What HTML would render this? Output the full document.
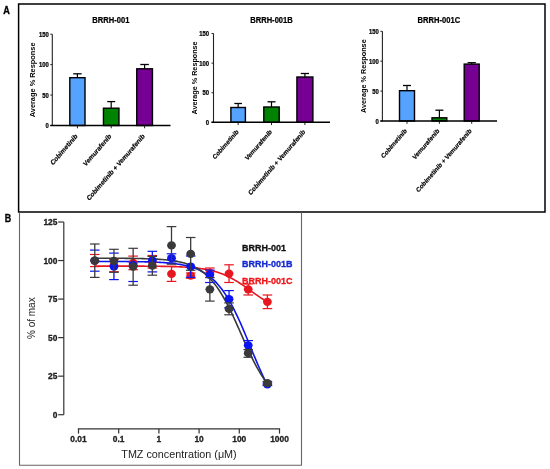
<!DOCTYPE html>
<html><head><meta charset="utf-8"><style>
html,body{margin:0;padding:0;background:#fff;}
svg{display:block;will-change:transform;}
text{font-family:"Liberation Sans", sans-serif;}
</style></head><body>
<svg width="550" height="469" viewBox="0 0 550 469" font-family='"Liberation Sans", sans-serif'>
<rect x="0" y="0" width="550" height="469" fill="#fff"/>
<rect x="18.6" y="4.0" width="526.4" height="208.0" fill="none" stroke="#000" stroke-width="1.5"/>
<polyline points="19.5,212.5 19.5,465.3 301.5,465.3 301.5,212.5" fill="none" stroke="#666" stroke-width="1.1"/>
<text transform="translate(3.2,13.8) scale(0.97,1.14)" font-size="9.4" font-weight="bold" stroke="#000" stroke-width="0.3">A</text>
<text transform="translate(4.8,221.8) scale(0.95,1.2)" font-size="9.4" font-weight="bold" stroke="#000" stroke-width="0.3">B</text>
<line x1="52.3" y1="34.2" x2="52.3" y2="125.5" stroke="#222" stroke-width="1.1"/>
<line x1="50.3" y1="125.50" x2="52.3" y2="125.50" stroke="#222" stroke-width="1"/>
<text transform="translate(48.8,128.00) scale(1,1.2)" font-size="5.9" font-weight="bold" text-anchor="end" stroke="#000" stroke-width="0.2">0</text>
<line x1="50.3" y1="95.07" x2="52.3" y2="95.07" stroke="#222" stroke-width="1"/>
<text transform="translate(48.8,97.57) scale(1,1.2)" font-size="5.9" font-weight="bold" text-anchor="end" stroke="#000" stroke-width="0.2">50</text>
<line x1="50.3" y1="64.63" x2="52.3" y2="64.63" stroke="#222" stroke-width="1"/>
<text transform="translate(48.8,67.13) scale(1,1.2)" font-size="5.9" font-weight="bold" text-anchor="end" stroke="#000" stroke-width="0.2">100</text>
<line x1="50.3" y1="34.20" x2="52.3" y2="34.20" stroke="#222" stroke-width="1"/>
<text transform="translate(48.8,36.70) scale(1,1.2)" font-size="5.9" font-weight="bold" text-anchor="end" stroke="#000" stroke-width="0.2">150</text>
<line x1="77.40" y1="73.8" x2="77.40" y2="77.7" stroke="#000" stroke-width="1.2"/>
<line x1="73.20" y1="73.8" x2="81.60" y2="73.8" stroke="#000" stroke-width="1.3"/>
<rect x="69.8" y="77.7" width="15.20" height="47.80" fill="#55a2ff" stroke="#000" stroke-width="1.4"/>
<line x1="77.40" y1="125.5" x2="77.40" y2="128.3" stroke="#222" stroke-width="1"/>
<line x1="111.20" y1="101.6" x2="111.20" y2="108.2" stroke="#000" stroke-width="1.2"/>
<line x1="107.20" y1="101.6" x2="115.20" y2="101.6" stroke="#000" stroke-width="1.3"/>
<rect x="103.45" y="108.2" width="15.50" height="17.30" fill="#008300" stroke="#000" stroke-width="1.4"/>
<line x1="111.20" y1="125.5" x2="111.20" y2="128.3" stroke="#222" stroke-width="1"/>
<line x1="144.60" y1="64.5" x2="144.60" y2="68.8" stroke="#000" stroke-width="1.2"/>
<line x1="140.30" y1="64.5" x2="148.90" y2="64.5" stroke="#000" stroke-width="1.3"/>
<rect x="136.75" y="68.8" width="15.70" height="56.70" fill="#760094" stroke="#000" stroke-width="1.4"/>
<line x1="144.60" y1="125.5" x2="144.60" y2="128.3" stroke="#222" stroke-width="1"/>
<line x1="50.3" y1="125.5" x2="170.5" y2="125.5" stroke="#000" stroke-width="1.4"/>
<text transform="translate(110.9,22.6) scale(1,1.15)" font-size="7.6" font-weight="bold" text-anchor="middle" stroke="#000" stroke-width="0.2">BRRH-001</text>
<text transform="translate(34.8,79.85) scale(1,1.15) rotate(-90)" font-size="6.44" font-weight="bold" text-anchor="middle">Average % Response</text>
<text transform="translate(77.90,136.8) scale(1,1.15) rotate(-45)" font-size="6.13" font-weight="bold" text-anchor="end" stroke="#000" stroke-width="0.18">Cobimetinib</text>
<text transform="translate(111.70,136.8) scale(1,1.15) rotate(-45)" font-size="6.13" font-weight="bold" text-anchor="end" stroke="#000" stroke-width="0.18">Vemurafenib</text>
<text transform="translate(145.10,136.8) scale(1,1.15) rotate(-45)" font-size="6.13" font-weight="bold" text-anchor="end" stroke="#000" stroke-width="0.18">Cobimetinib + Vemurafenib</text>
<line x1="213.5" y1="33.5" x2="213.5" y2="122.3" stroke="#222" stroke-width="1.1"/>
<line x1="211.5" y1="122.30" x2="213.5" y2="122.30" stroke="#222" stroke-width="1"/>
<text transform="translate(209.1,124.80) scale(1,1.2)" font-size="5.9" font-weight="bold" text-anchor="end" stroke="#000" stroke-width="0.2">0</text>
<line x1="211.5" y1="92.70" x2="213.5" y2="92.70" stroke="#222" stroke-width="1"/>
<text transform="translate(209.1,95.20) scale(1,1.2)" font-size="5.9" font-weight="bold" text-anchor="end" stroke="#000" stroke-width="0.2">50</text>
<line x1="211.5" y1="63.10" x2="213.5" y2="63.10" stroke="#222" stroke-width="1"/>
<text transform="translate(209.1,65.60) scale(1,1.2)" font-size="5.9" font-weight="bold" text-anchor="end" stroke="#000" stroke-width="0.2">100</text>
<line x1="211.5" y1="33.50" x2="213.5" y2="33.50" stroke="#222" stroke-width="1"/>
<text transform="translate(209.1,36.00) scale(1,1.2)" font-size="5.9" font-weight="bold" text-anchor="end" stroke="#000" stroke-width="0.2">150</text>
<line x1="238.15" y1="103.5" x2="238.15" y2="107.5" stroke="#000" stroke-width="1.2"/>
<line x1="234.35" y1="103.5" x2="241.95" y2="103.5" stroke="#000" stroke-width="1.3"/>
<rect x="230.9" y="107.5" width="14.50" height="14.80" fill="#55a2ff" stroke="#000" stroke-width="1.4"/>
<line x1="238.15" y1="122.3" x2="238.15" y2="125.1" stroke="#222" stroke-width="1"/>
<line x1="271.50" y1="101.8" x2="271.50" y2="107.0" stroke="#000" stroke-width="1.2"/>
<line x1="267.50" y1="101.8" x2="275.50" y2="101.8" stroke="#000" stroke-width="1.3"/>
<rect x="263.8" y="107.0" width="15.40" height="15.30" fill="#008300" stroke="#000" stroke-width="1.4"/>
<line x1="271.50" y1="122.3" x2="271.50" y2="125.1" stroke="#222" stroke-width="1"/>
<line x1="304.90" y1="73.5" x2="304.90" y2="77.0" stroke="#000" stroke-width="1.2"/>
<line x1="300.80" y1="73.5" x2="309.00" y2="73.5" stroke="#000" stroke-width="1.3"/>
<rect x="296.9" y="77.0" width="16.00" height="45.30" fill="#760094" stroke="#000" stroke-width="1.4"/>
<line x1="304.90" y1="122.3" x2="304.90" y2="125.1" stroke="#222" stroke-width="1"/>
<line x1="211.5" y1="122.3" x2="330" y2="122.3" stroke="#000" stroke-width="1.4"/>
<text transform="translate(271.5,22.6) scale(1,1.15)" font-size="7.6" font-weight="bold" text-anchor="middle" stroke="#000" stroke-width="0.2">BRRH-001B</text>
<text transform="translate(196.6,77.90) scale(1,1.15) rotate(-90)" font-size="6.28" font-weight="bold" text-anchor="middle">Average % Response</text>
<text transform="translate(238.95,132.3) scale(1,1.15) rotate(-45)" font-size="5.85" font-weight="bold" text-anchor="end" stroke="#000" stroke-width="0.18">Cobimetinib</text>
<text transform="translate(272.30,132.3) scale(1,1.15) rotate(-45)" font-size="5.85" font-weight="bold" text-anchor="end" stroke="#000" stroke-width="0.18">Vemurafenib</text>
<text transform="translate(305.70,132.3) scale(1,1.15) rotate(-45)" font-size="6.03" font-weight="bold" text-anchor="end" stroke="#000" stroke-width="0.18">Cobimetinib + Vemurafenib</text>
<line x1="382.4" y1="31.3" x2="382.4" y2="121.0" stroke="#222" stroke-width="1.1"/>
<line x1="380.4" y1="121.00" x2="382.4" y2="121.00" stroke="#222" stroke-width="1"/>
<text transform="translate(378.9,123.50) scale(1,1.2)" font-size="5.9" font-weight="bold" text-anchor="end" stroke="#000" stroke-width="0.2">0</text>
<line x1="380.4" y1="91.10" x2="382.4" y2="91.10" stroke="#222" stroke-width="1"/>
<text transform="translate(378.9,93.60) scale(1,1.2)" font-size="5.9" font-weight="bold" text-anchor="end" stroke="#000" stroke-width="0.2">50</text>
<line x1="380.4" y1="61.20" x2="382.4" y2="61.20" stroke="#222" stroke-width="1"/>
<text transform="translate(378.9,63.70) scale(1,1.2)" font-size="5.9" font-weight="bold" text-anchor="end" stroke="#000" stroke-width="0.2">100</text>
<line x1="380.4" y1="31.30" x2="382.4" y2="31.30" stroke="#222" stroke-width="1"/>
<text transform="translate(378.9,33.80) scale(1,1.2)" font-size="5.9" font-weight="bold" text-anchor="end" stroke="#000" stroke-width="0.2">150</text>
<line x1="407.00" y1="85.5" x2="407.00" y2="90.7" stroke="#000" stroke-width="1.2"/>
<line x1="403.00" y1="85.5" x2="411.00" y2="85.5" stroke="#000" stroke-width="1.3"/>
<rect x="399.5" y="90.7" width="15.00" height="30.30" fill="#55a2ff" stroke="#000" stroke-width="1.4"/>
<line x1="407.00" y1="121.0" x2="407.00" y2="123.8" stroke="#222" stroke-width="1"/>
<line x1="439.40" y1="110.2" x2="439.40" y2="117.8" stroke="#000" stroke-width="1.2"/>
<line x1="435.40" y1="110.2" x2="443.40" y2="110.2" stroke="#000" stroke-width="1.3"/>
<rect x="432.0" y="117.8" width="14.80" height="3.20" fill="#008300" stroke="#000" stroke-width="1.4"/>
<line x1="439.40" y1="121.0" x2="439.40" y2="123.8" stroke="#222" stroke-width="1"/>
<line x1="471.70" y1="62.7" x2="471.70" y2="64.1" stroke="#000" stroke-width="1.2"/>
<line x1="467.60" y1="62.7" x2="475.80" y2="62.7" stroke="#000" stroke-width="1.3"/>
<rect x="464.2" y="64.1" width="15.00" height="56.90" fill="#760094" stroke="#000" stroke-width="1.4"/>
<line x1="471.70" y1="121.0" x2="471.70" y2="123.8" stroke="#222" stroke-width="1"/>
<line x1="380.4" y1="121.0" x2="497" y2="121.0" stroke="#000" stroke-width="1.4"/>
<text transform="translate(438.9,22.6) scale(1,1.15)" font-size="7.6" font-weight="bold" text-anchor="middle" stroke="#000" stroke-width="0.2">BRRH-001C</text>
<text transform="translate(366.2,76.15) scale(1,1.15) rotate(-90)" font-size="6.33" font-weight="bold" text-anchor="middle">Average % Response</text>
<text transform="translate(407.30,131.4) scale(1,1.15) rotate(-45)" font-size="5.85" font-weight="bold" text-anchor="end" stroke="#000" stroke-width="0.18">Cobimetinib</text>
<text transform="translate(439.70,131.4) scale(1,1.15) rotate(-45)" font-size="5.85" font-weight="bold" text-anchor="end" stroke="#000" stroke-width="0.18">Vemurafenib</text>
<text transform="translate(472.00,131.4) scale(1,1.15) rotate(-45)" font-size="5.85" font-weight="bold" text-anchor="end" stroke="#000" stroke-width="0.18">Cobimetinib + Vemurafenib</text>
<line x1="63.8" y1="222" x2="63.8" y2="414.7" stroke="#333" stroke-width="1.2"/>
<line x1="58.2" y1="414.70" x2="63.8" y2="414.70" stroke="#333" stroke-width="1.2"/>
<text x="57.4" y="417.70" font-size="8.4" font-weight="bold" text-anchor="end" fill="#222" stroke="#222" stroke-width="0.3">0</text>
<line x1="58.2" y1="376.16" x2="63.8" y2="376.16" stroke="#333" stroke-width="1.2"/>
<text x="57.4" y="379.16" font-size="8.4" font-weight="bold" text-anchor="end" fill="#222" stroke="#222" stroke-width="0.3">25</text>
<line x1="58.2" y1="337.62" x2="63.8" y2="337.62" stroke="#333" stroke-width="1.2"/>
<text x="57.4" y="340.62" font-size="8.4" font-weight="bold" text-anchor="end" fill="#222" stroke="#222" stroke-width="0.3">50</text>
<line x1="58.2" y1="299.08" x2="63.8" y2="299.08" stroke="#333" stroke-width="1.2"/>
<text x="57.4" y="302.08" font-size="8.4" font-weight="bold" text-anchor="end" fill="#222" stroke="#222" stroke-width="0.3">75</text>
<line x1="58.2" y1="260.54" x2="63.8" y2="260.54" stroke="#333" stroke-width="1.2"/>
<text x="57.4" y="263.54" font-size="8.4" font-weight="bold" text-anchor="end" fill="#222" stroke="#222" stroke-width="0.3">100</text>
<line x1="58.2" y1="222.00" x2="63.8" y2="222.00" stroke="#333" stroke-width="1.2"/>
<text x="57.4" y="225.00" font-size="8.4" font-weight="bold" text-anchor="end" fill="#222" stroke="#222" stroke-width="0.3">125</text>
<line x1="77.9" y1="428.8" x2="280.1" y2="428.8" stroke="#333" stroke-width="1.2"/>
<line x1="78.5" y1="428.8" x2="78.5" y2="433.6" stroke="#333" stroke-width="1.2"/>
<text x="78.50" y="441.6" font-size="8.4" font-weight="bold" text-anchor="middle" fill="#222" stroke="#222" stroke-width="0.3">0.01</text>
<line x1="118.7" y1="428.8" x2="118.7" y2="433.6" stroke="#333" stroke-width="1.2"/>
<text x="118.70" y="441.6" font-size="8.4" font-weight="bold" text-anchor="middle" fill="#222" stroke="#222" stroke-width="0.3">0.1</text>
<line x1="158.9" y1="428.8" x2="158.9" y2="433.6" stroke="#333" stroke-width="1.2"/>
<text x="158.90" y="441.6" font-size="8.4" font-weight="bold" text-anchor="middle" fill="#222" stroke="#222" stroke-width="0.3">1</text>
<line x1="199.10000000000002" y1="428.8" x2="199.10000000000002" y2="433.6" stroke="#333" stroke-width="1.2"/>
<text x="199.10" y="441.6" font-size="8.4" font-weight="bold" text-anchor="middle" fill="#222" stroke="#222" stroke-width="0.3">10</text>
<line x1="239.3" y1="428.8" x2="239.3" y2="433.6" stroke="#333" stroke-width="1.2"/>
<text x="239.30" y="441.6" font-size="8.4" font-weight="bold" text-anchor="middle" fill="#222" stroke="#222" stroke-width="0.3">100</text>
<line x1="279.5" y1="428.8" x2="279.5" y2="433.6" stroke="#333" stroke-width="1.2"/>
<text x="279.50" y="441.6" font-size="8.4" font-weight="bold" text-anchor="middle" fill="#222" stroke="#222" stroke-width="0.3">1000</text>
<text x="179" y="457.5" font-size="10.8" text-anchor="middle" fill="#222">TMZ concentration (μM)</text>
<text transform="translate(35.3,318.2) rotate(-90)" font-size="10" text-anchor="middle" fill="#222">% of max</text>
<path d="M94.80,266.09 L96.24,266.09 L97.69,266.09 L99.13,266.09 L100.57,266.09 L102.02,266.09 L103.46,266.09 L104.91,266.09 L106.35,266.09 L107.79,266.09 L109.24,266.09 L110.68,266.09 L112.12,266.10 L113.57,266.10 L115.01,266.10 L116.46,266.10 L117.90,266.10 L119.34,266.10 L120.79,266.11 L122.23,266.11 L123.67,266.11 L125.12,266.11 L126.56,266.11 L128.01,266.12 L129.45,266.12 L130.89,266.12 L132.34,266.13 L133.78,266.13 L135.22,266.14 L136.67,266.14 L138.11,266.15 L139.55,266.15 L141.00,266.16 L142.44,266.16 L143.89,266.17 L145.33,266.18 L146.77,266.19 L148.22,266.20 L149.66,266.21 L151.10,266.22 L152.55,266.23 L153.99,266.25 L155.44,266.26 L156.88,266.28 L158.32,266.29 L159.77,266.31 L161.21,266.33 L162.65,266.35 L164.10,266.38 L165.54,266.40 L166.98,266.43 L168.43,266.46 L169.87,266.50 L171.32,266.54 L172.76,266.58 L174.20,266.62 L175.65,266.67 L177.09,266.72 L178.53,266.77 L179.98,266.83 L181.42,266.90 L182.87,266.97 L184.31,267.05 L185.75,267.13 L187.20,267.23 L188.64,267.33 L190.08,267.43 L191.53,267.55 L192.97,267.68 L194.42,267.81 L195.86,267.96 L197.30,268.12 L198.75,268.30 L200.19,268.49 L201.63,268.69 L203.08,268.91 L204.52,269.14 L205.96,269.40 L207.41,269.67 L208.85,269.97 L210.30,270.28 L211.74,270.62 L213.18,270.99 L214.63,271.38 L216.07,271.79 L217.51,272.24 L218.96,272.71 L220.40,273.22 L221.85,273.75 L223.29,274.32 L224.73,274.92 L226.18,275.56 L227.62,276.23 L229.06,276.93 L230.51,277.67 L231.95,278.44 L233.39,279.24 L234.84,280.08 L236.28,280.94 L237.73,281.84 L239.17,282.76 L240.61,283.71 L242.06,284.68 L243.50,285.67 L244.94,286.68 L246.39,287.70 L247.83,288.73 L249.28,289.76 L250.72,290.80 L252.16,291.84 L253.61,292.87 L255.05,293.89 L256.49,294.90 L257.94,295.89 L259.38,296.86 L260.83,297.82 L262.27,298.74 L263.71,299.64 L265.16,300.52 L266.60,301.36" fill="none" stroke="#e8161f" stroke-width="1.6"/>
<path d="M94.80,261.45 L96.24,261.45 L97.69,261.45 L99.13,261.46 L100.57,261.46 L102.02,261.46 L103.46,261.46 L104.91,261.47 L106.35,261.47 L107.79,261.47 L109.24,261.48 L110.68,261.48 L112.12,261.49 L113.57,261.49 L115.01,261.50 L116.46,261.51 L117.90,261.51 L119.34,261.52 L120.79,261.53 L122.23,261.54 L123.67,261.55 L125.12,261.56 L126.56,261.57 L128.01,261.58 L129.45,261.59 L130.89,261.61 L132.34,261.62 L133.78,261.64 L135.22,261.66 L136.67,261.68 L138.11,261.70 L139.55,261.72 L141.00,261.75 L142.44,261.78 L143.89,261.81 L145.33,261.84 L146.77,261.88 L148.22,261.91 L149.66,261.96 L151.10,262.00 L152.55,262.05 L153.99,262.11 L155.44,262.16 L156.88,262.23 L158.32,262.30 L159.77,262.37 L161.21,262.45 L162.65,262.54 L164.10,262.64 L165.54,262.74 L166.98,262.85 L168.43,262.97 L169.87,263.10 L171.32,263.25 L172.76,263.40 L174.20,263.57 L175.65,263.75 L177.09,263.95 L178.53,264.17 L179.98,264.40 L181.42,264.65 L182.87,264.92 L184.31,265.22 L185.75,265.54 L187.20,265.88 L188.64,266.25 L190.08,266.66 L191.53,267.09 L192.97,267.56 L194.42,268.07 L195.86,268.62 L197.30,269.21 L198.75,269.85 L200.19,270.54 L201.63,271.28 L203.08,272.08 L204.52,272.93 L205.96,273.85 L207.41,274.84 L208.85,275.90 L210.30,277.03 L211.74,278.25 L213.18,279.54 L214.63,280.93 L216.07,282.40 L217.51,283.97 L218.96,285.64 L220.40,287.41 L221.85,289.28 L223.29,291.26 L224.73,293.35 L226.18,295.55 L227.62,297.86 L229.06,300.29 L230.51,302.82 L231.95,305.46 L233.39,308.22 L234.84,311.07 L236.28,314.03 L237.73,317.08 L239.17,320.22 L240.61,323.44 L242.06,326.73 L243.50,330.09 L244.94,333.50 L246.39,336.95 L247.83,340.44 L249.28,343.94 L250.72,347.45 L252.16,350.96 L253.61,354.46 L255.05,357.92 L256.49,361.35 L257.94,364.73 L259.38,368.05 L260.83,371.30 L262.27,374.47 L263.71,377.55 L265.16,380.55 L266.60,383.44" fill="none" stroke="#0a14f0" stroke-width="1.6"/>
<path d="M94.80,258.21 L96.24,258.21 L97.69,258.21 L99.13,258.21 L100.57,258.22 L102.02,258.22 L103.46,258.22 L104.91,258.23 L106.35,258.23 L107.79,258.23 L109.24,258.24 L110.68,258.24 L112.12,258.25 L113.57,258.26 L115.01,258.26 L116.46,258.27 L117.90,258.28 L119.34,258.29 L120.79,258.30 L122.23,258.31 L123.67,258.32 L125.12,258.33 L126.56,258.34 L128.01,258.36 L129.45,258.37 L130.89,258.39 L132.34,258.41 L133.78,258.43 L135.22,258.45 L136.67,258.48 L138.11,258.50 L139.55,258.53 L141.00,258.56 L142.44,258.60 L143.89,258.63 L145.33,258.68 L146.77,258.72 L148.22,258.77 L149.66,258.82 L151.10,258.88 L152.55,258.94 L153.99,259.01 L155.44,259.08 L156.88,259.16 L158.32,259.25 L159.77,259.35 L161.21,259.45 L162.65,259.56 L164.10,259.69 L165.54,259.82 L166.98,259.97 L168.43,260.13 L169.87,260.30 L171.32,260.49 L172.76,260.69 L174.20,260.91 L175.65,261.15 L177.09,261.41 L178.53,261.70 L179.98,262.01 L181.42,262.34 L182.87,262.71 L184.31,263.10 L185.75,263.53 L187.20,263.99 L188.64,264.49 L190.08,265.04 L191.53,265.62 L192.97,266.26 L194.42,266.94 L195.86,267.68 L197.30,268.48 L198.75,269.34 L200.19,270.27 L201.63,271.26 L203.08,272.33 L204.52,273.47 L205.96,274.70 L207.41,276.02 L208.85,277.42 L210.30,278.91 L211.74,280.51 L213.18,282.20 L214.63,283.99 L216.07,285.89 L217.51,287.90 L218.96,290.02 L220.40,292.24 L221.85,294.57 L223.29,297.01 L224.73,299.56 L226.18,302.20 L227.62,304.94 L229.06,307.78 L230.51,310.70 L231.95,313.70 L233.39,316.77 L234.84,319.90 L236.28,323.08 L237.73,326.30 L239.17,329.55 L240.61,332.82 L242.06,336.09 L243.50,339.35 L244.94,342.59 L246.39,345.80 L247.83,348.97 L249.28,352.09 L250.72,355.14 L252.16,358.12 L253.61,361.02 L255.05,363.83 L256.49,366.55 L257.94,369.17 L259.38,371.69 L260.83,374.10 L262.27,376.40 L263.71,378.60 L265.16,380.68 L266.60,382.66" fill="none" stroke="#3a3a3a" stroke-width="1.6"/>
<line x1="89.98" y1="254.5" x2="99.58" y2="254.5" stroke="#e8161f" stroke-width="1.2"/>
<line x1="89.98" y1="266.6" x2="99.58" y2="266.6" stroke="#e8161f" stroke-width="1.2"/>
<ellipse cx="94.78" cy="260.8" rx="4.4" ry="4.1" fill="#e8161f"/>
<line x1="109.16" y1="259.3" x2="118.76" y2="259.3" stroke="#e8161f" stroke-width="1.2"/>
<line x1="109.16" y1="271.7" x2="118.76" y2="271.7" stroke="#e8161f" stroke-width="1.2"/>
<ellipse cx="113.96" cy="265.5" rx="4.4" ry="4.1" fill="#e8161f"/>
<line x1="128.34" y1="256.1" x2="137.94" y2="256.1" stroke="#e8161f" stroke-width="1.2"/>
<line x1="128.34" y1="269.7" x2="137.94" y2="269.7" stroke="#e8161f" stroke-width="1.2"/>
<ellipse cx="133.14" cy="262.8" rx="4.4" ry="4.1" fill="#e8161f"/>
<line x1="147.52" y1="255.5" x2="157.12" y2="255.5" stroke="#e8161f" stroke-width="1.2"/>
<line x1="147.52" y1="268" x2="157.12" y2="268" stroke="#e8161f" stroke-width="1.2"/>
<ellipse cx="152.32" cy="261.7" rx="4.4" ry="4.1" fill="#e8161f"/>
<line x1="171.50" y1="266.4" x2="171.50" y2="281.4" stroke="#e8161f" stroke-width="1.3"/>
<line x1="166.70" y1="266.4" x2="176.30" y2="266.4" stroke="#e8161f" stroke-width="1.2"/>
<line x1="166.70" y1="281.4" x2="176.30" y2="281.4" stroke="#e8161f" stroke-width="1.2"/>
<ellipse cx="171.50" cy="273.9" rx="4.4" ry="4.1" fill="#e8161f"/>
<line x1="190.68" y1="277.3" x2="190.68" y2="278.2" stroke="#e8161f" stroke-width="1.3"/>
<line x1="185.88" y1="273.0" x2="195.48" y2="273.0" stroke="#e8161f" stroke-width="1.2"/>
<line x1="185.88" y1="278.2" x2="195.48" y2="278.2" stroke="#e8161f" stroke-width="1.2"/>
<ellipse cx="190.68" cy="275.6" rx="4.4" ry="4.1" fill="#e8161f"/>
<line x1="209.86" y1="268.0" x2="209.86" y2="270.1" stroke="#e8161f" stroke-width="1.3"/>
<line x1="205.06" y1="268.0" x2="214.66" y2="268.0" stroke="#e8161f" stroke-width="1.2"/>
<ellipse cx="209.86" cy="272.9" rx="4.4" ry="4.1" fill="#e8161f"/>
<line x1="229.04" y1="264.8" x2="229.04" y2="282.5" stroke="#e8161f" stroke-width="1.3"/>
<line x1="224.24" y1="264.8" x2="233.84" y2="264.8" stroke="#e8161f" stroke-width="1.2"/>
<line x1="224.24" y1="282.5" x2="233.84" y2="282.5" stroke="#e8161f" stroke-width="1.2"/>
<ellipse cx="229.04" cy="273.6" rx="4.4" ry="4.1" fill="#e8161f"/>
<line x1="248.22" y1="283.9" x2="248.22" y2="295.0" stroke="#e8161f" stroke-width="1.3"/>
<line x1="243.42" y1="283.9" x2="253.02" y2="283.9" stroke="#e8161f" stroke-width="1.2"/>
<line x1="243.42" y1="295.0" x2="253.02" y2="295.0" stroke="#e8161f" stroke-width="1.2"/>
<ellipse cx="248.22" cy="289.3" rx="4.4" ry="4.1" fill="#e8161f"/>
<line x1="267.40" y1="295.0" x2="267.40" y2="308.6" stroke="#e8161f" stroke-width="1.3"/>
<line x1="262.60" y1="295.0" x2="272.20" y2="295.0" stroke="#e8161f" stroke-width="1.2"/>
<line x1="262.60" y1="308.6" x2="272.20" y2="308.6" stroke="#e8161f" stroke-width="1.2"/>
<ellipse cx="267.40" cy="301.8" rx="4.4" ry="4.1" fill="#e8161f"/>
<line x1="89.98" y1="250.1" x2="99.58" y2="250.1" stroke="#0a14f0" stroke-width="1.2"/>
<line x1="89.98" y1="271.2" x2="99.58" y2="271.2" stroke="#0a14f0" stroke-width="1.2"/>
<ellipse cx="94.78" cy="260.6" rx="4.4" ry="4.1" fill="#0a14f0"/>
<line x1="113.96" y1="272.3" x2="113.96" y2="279.6" stroke="#0a14f0" stroke-width="1.3"/>
<line x1="109.16" y1="253.1" x2="118.76" y2="253.1" stroke="#0a14f0" stroke-width="1.2"/>
<line x1="109.16" y1="279.6" x2="118.76" y2="279.6" stroke="#0a14f0" stroke-width="1.2"/>
<ellipse cx="113.96" cy="266.6" rx="4.4" ry="4.1" fill="#0a14f0"/>
<line x1="128.34" y1="281.5" x2="137.94" y2="281.5" stroke="#0a14f0" stroke-width="1.2"/>
<ellipse cx="133.14" cy="264.9" rx="4.4" ry="4.1" fill="#0a14f0"/>
<line x1="152.32" y1="251.3" x2="152.32" y2="256.4" stroke="#0a14f0" stroke-width="1.3"/>
<line x1="147.52" y1="251.3" x2="157.12" y2="251.3" stroke="#0a14f0" stroke-width="1.2"/>
<line x1="147.52" y1="271.9" x2="157.12" y2="271.9" stroke="#0a14f0" stroke-width="1.2"/>
<ellipse cx="152.32" cy="260.5" rx="4.4" ry="4.1" fill="#0a14f0"/>
<line x1="166.70" y1="253.8" x2="176.30" y2="253.8" stroke="#0a14f0" stroke-width="1.2"/>
<line x1="166.70" y1="263.1" x2="176.30" y2="263.1" stroke="#0a14f0" stroke-width="1.2"/>
<ellipse cx="171.50" cy="258.2" rx="4.4" ry="4.1" fill="#0a14f0"/>
<line x1="190.68" y1="270.3" x2="190.68" y2="277.3" stroke="#0a14f0" stroke-width="1.3"/>
<line x1="185.88" y1="256.0" x2="195.48" y2="256.0" stroke="#0a14f0" stroke-width="1.2"/>
<line x1="185.88" y1="277.3" x2="195.48" y2="277.3" stroke="#0a14f0" stroke-width="1.2"/>
<ellipse cx="190.68" cy="266.5" rx="4.4" ry="4.1" fill="#0a14f0"/>
<line x1="209.86" y1="270.1" x2="209.86" y2="277.6" stroke="#0a14f0" stroke-width="1.3"/>
<line x1="205.06" y1="270.1" x2="214.66" y2="270.1" stroke="#0a14f0" stroke-width="1.2"/>
<line x1="205.06" y1="282.5" x2="214.66" y2="282.5" stroke="#0a14f0" stroke-width="1.2"/>
<ellipse cx="209.86" cy="274.8" rx="4.4" ry="4.1" fill="#0a14f0"/>
<line x1="229.04" y1="290.6" x2="229.04" y2="302.9" stroke="#0a14f0" stroke-width="1.3"/>
<line x1="224.24" y1="290.6" x2="233.84" y2="290.6" stroke="#0a14f0" stroke-width="1.2"/>
<line x1="224.24" y1="307.8" x2="233.84" y2="307.8" stroke="#0a14f0" stroke-width="1.2"/>
<ellipse cx="229.04" cy="299.2" rx="4.4" ry="4.1" fill="#0a14f0"/>
<line x1="248.22" y1="340.6" x2="248.22" y2="349.5" stroke="#0a14f0" stroke-width="1.3"/>
<line x1="243.42" y1="340.6" x2="253.02" y2="340.6" stroke="#0a14f0" stroke-width="1.2"/>
<ellipse cx="248.22" cy="345.3" rx="4.4" ry="4.1" fill="#0a14f0"/>
<line x1="267.40" y1="384.9" x2="267.40" y2="385.5" stroke="#0a14f0" stroke-width="1.3"/>
<line x1="262.60" y1="383.0" x2="272.20" y2="383.0" stroke="#0a14f0" stroke-width="1.2"/>
<line x1="262.60" y1="385.5" x2="272.20" y2="385.5" stroke="#0a14f0" stroke-width="1.2"/>
<ellipse cx="267.40" cy="384.3" rx="4.4" ry="4.1" fill="#0a14f0"/>
<line x1="94.78" y1="244.0" x2="94.78" y2="277.4" stroke="#3a3a3a" stroke-width="1.3"/>
<line x1="89.98" y1="244.0" x2="99.58" y2="244.0" stroke="#3a3a3a" stroke-width="1.2"/>
<line x1="89.98" y1="277.4" x2="99.58" y2="277.4" stroke="#3a3a3a" stroke-width="1.2"/>
<ellipse cx="94.78" cy="260.5" rx="4.4" ry="4.1" fill="#3a3a3a"/>
<line x1="113.96" y1="249.3" x2="113.96" y2="272.3" stroke="#3a3a3a" stroke-width="1.3"/>
<line x1="109.16" y1="249.3" x2="118.76" y2="249.3" stroke="#3a3a3a" stroke-width="1.2"/>
<line x1="109.16" y1="272.3" x2="118.76" y2="272.3" stroke="#3a3a3a" stroke-width="1.2"/>
<ellipse cx="113.96" cy="260.8" rx="4.4" ry="4.1" fill="#3a3a3a"/>
<line x1="133.14" y1="248.3" x2="133.14" y2="285.2" stroke="#3a3a3a" stroke-width="1.3"/>
<line x1="128.34" y1="248.3" x2="137.94" y2="248.3" stroke="#3a3a3a" stroke-width="1.2"/>
<line x1="128.34" y1="285.2" x2="137.94" y2="285.2" stroke="#3a3a3a" stroke-width="1.2"/>
<ellipse cx="133.14" cy="266.6" rx="4.4" ry="4.1" fill="#3a3a3a"/>
<line x1="152.32" y1="256.4" x2="152.32" y2="275.2" stroke="#3a3a3a" stroke-width="1.3"/>
<line x1="147.52" y1="256.4" x2="157.12" y2="256.4" stroke="#3a3a3a" stroke-width="1.2"/>
<line x1="147.52" y1="275.2" x2="157.12" y2="275.2" stroke="#3a3a3a" stroke-width="1.2"/>
<ellipse cx="152.32" cy="265.7" rx="4.4" ry="4.1" fill="#3a3a3a"/>
<line x1="171.50" y1="226.6" x2="171.50" y2="264.2" stroke="#3a3a3a" stroke-width="1.3"/>
<line x1="166.70" y1="226.6" x2="176.30" y2="226.6" stroke="#3a3a3a" stroke-width="1.2"/>
<line x1="166.70" y1="264.2" x2="176.30" y2="264.2" stroke="#3a3a3a" stroke-width="1.2"/>
<ellipse cx="171.50" cy="245.4" rx="4.4" ry="4.1" fill="#3a3a3a"/>
<line x1="190.68" y1="237.5" x2="190.68" y2="270.3" stroke="#3a3a3a" stroke-width="1.3"/>
<line x1="185.88" y1="237.5" x2="195.48" y2="237.5" stroke="#3a3a3a" stroke-width="1.2"/>
<line x1="185.88" y1="270.3" x2="195.48" y2="270.3" stroke="#3a3a3a" stroke-width="1.2"/>
<ellipse cx="190.68" cy="253.9" rx="4.4" ry="4.1" fill="#3a3a3a"/>
<line x1="209.86" y1="277.6" x2="209.86" y2="301.1" stroke="#3a3a3a" stroke-width="1.3"/>
<line x1="205.06" y1="277.6" x2="214.66" y2="277.6" stroke="#3a3a3a" stroke-width="1.2"/>
<line x1="205.06" y1="301.1" x2="214.66" y2="301.1" stroke="#3a3a3a" stroke-width="1.2"/>
<ellipse cx="209.86" cy="289.3" rx="4.4" ry="4.1" fill="#3a3a3a"/>
<line x1="229.04" y1="302.9" x2="229.04" y2="314.8" stroke="#3a3a3a" stroke-width="1.3"/>
<line x1="224.24" y1="302.9" x2="233.84" y2="302.9" stroke="#3a3a3a" stroke-width="1.2"/>
<line x1="224.24" y1="314.8" x2="233.84" y2="314.8" stroke="#3a3a3a" stroke-width="1.2"/>
<ellipse cx="229.04" cy="308.9" rx="4.4" ry="4.1" fill="#3a3a3a"/>
<line x1="248.22" y1="349.5" x2="248.22" y2="357.3" stroke="#3a3a3a" stroke-width="1.3"/>
<line x1="243.42" y1="349.5" x2="253.02" y2="349.5" stroke="#3a3a3a" stroke-width="1.2"/>
<line x1="243.42" y1="357.3" x2="253.02" y2="357.3" stroke="#3a3a3a" stroke-width="1.2"/>
<ellipse cx="248.22" cy="353.2" rx="4.4" ry="4.1" fill="#3a3a3a"/>
<line x1="267.40" y1="381.5" x2="267.40" y2="384.9" stroke="#3a3a3a" stroke-width="1.3"/>
<line x1="262.60" y1="381.5" x2="272.20" y2="381.5" stroke="#3a3a3a" stroke-width="1.2"/>
<line x1="262.60" y1="384.9" x2="272.20" y2="384.9" stroke="#3a3a3a" stroke-width="1.2"/>
<ellipse cx="267.40" cy="383.2" rx="4.4" ry="4.1" fill="#3a3a3a"/>
<text transform="translate(242.0,251.1) scale(1,1.1)" font-size="9.0" font-weight="bold" fill="#111" stroke="#111" stroke-width="0.3">BRRH-001</text>
<text transform="translate(242.0,267.0) scale(1,1.1)" font-size="9.0" font-weight="bold" fill="#1428d2" stroke="#1428d2" stroke-width="0.3">BRRH-001B</text>
<text transform="translate(242.0,284.1) scale(1,1.1)" font-size="9.0" font-weight="bold" fill="#f01418" stroke="#f01418" stroke-width="0.3">BRRH-001C</text>
</svg>
</body></html>
